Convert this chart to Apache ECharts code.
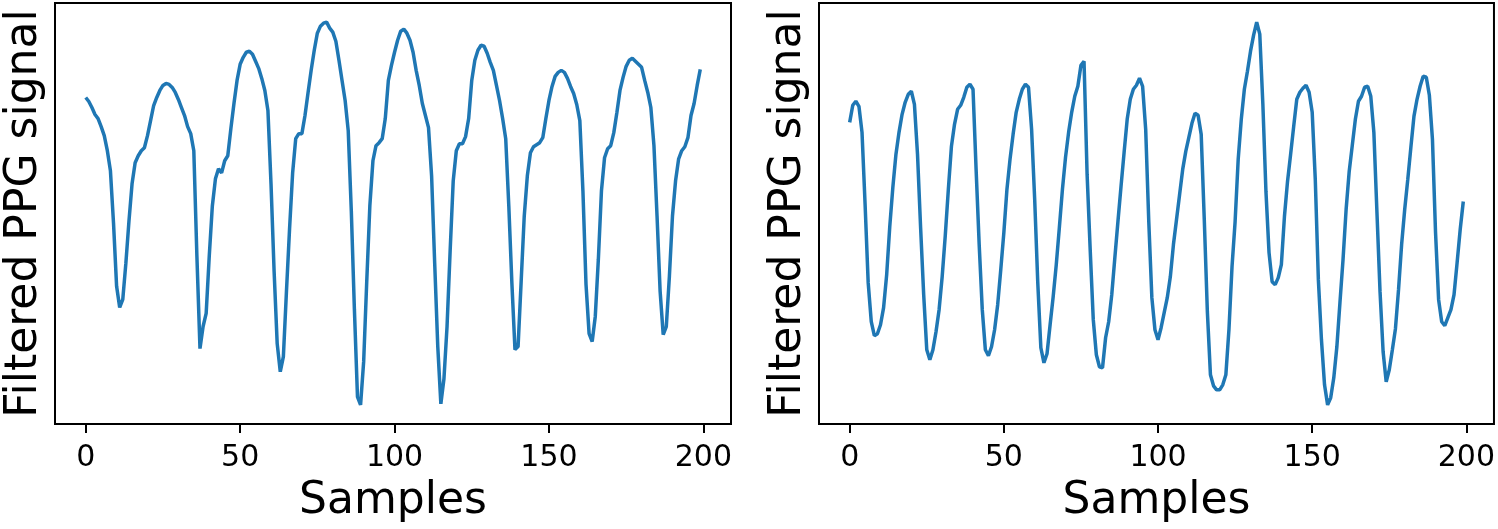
<!DOCTYPE html>
<html>
<head>
<meta charset="utf-8">
<script src="https://cdn.jsdelivr.net/npm/echarts@6/dist/echarts.min.js"></script>
<style>
html,body{margin:0;padding:0;background:#fff;}
#chart{width:1498px;height:529px;}
</style>
</head>
<body>
<div id="chart"></div>
<script>
// Filtered PPG signal (arbitrary units), one value per sample 0..199
const leftSignal = [
153,149,143,136,132,124,115,100,80,28,
-35,-56,-48,-12,30,67,88,95,100,103,
115,130,145,153,160,165,167,166,163,158,
151,143,135,124,117,100,-5,-97,-75,-62,
-5,45,72,82,78,90,95,122,147,170,
186,193,198,199,196,189,182,172,160,140,
67,-20,-92,-120,-105,-40,22,78,112,117,
117,135,158,180,200,217,224,227,228,222,
218,209,190,170,150,120,40,-58,-145,-153,
-110,-30,45,90,105,108,112,132,170,185,
198,210,219,221,217,210,198,180,165,147,
135,123,75,-12,-95,-152,-127,-75,0,70,
100,107,107,114,132,170,190,200,205,204,
197,188,180,165,150,132,112,45,-32,-98,
-95,-30,35,75,98,104,106,108,113,132,
150,164,174,178,180,178,172,164,157,146,
130,60,-33,-82,-90,-65,-8,60,93,102,
105,118,138,160,173,184,190,192,189,186,
183,170,158,143,105,35,-40,-83,-75,-25,
35,70,92,100,104,113,135,147,165,181
];
const rightSignal = [
127,144,148,143,117,45,-33,-72,-86,-84,
-75,-58,-25,23,62,95,117,135,147,155,
158,145,95,22,-45,-100,-110,-100,-82,-60,
-27,14,60,103,125,140,144,152,162,165,
160,80,5,-60,-100,-106,-97,-80,-55,-20,
17,60,90,115,137,150,160,165,162,120,
50,-33,-98,-113,-104,-75,-47,-15,22,60,
92,117,137,153,163,184,188,75,0,-70,
-105,-117,-118,-88,-72,-45,-8,28,63,97,
130,150,160,164,171,163,120,28,-48,-80,
-90,-78,-63,-48,-27,5,30,55,80,98,
112,126,136,134,115,30,-62,-125,-136,-140,
-140,-135,-125,-80,-17,28,90,130,160,178,
198,214,227,215,145,58,-3,-32,-35,-28,
-15,33,68,95,123,150,157,161,164,157,
137,70,-30,-90,-135,-155,-148,-128,-97,-53,
-10,40,78,104,130,148,153,162,163,153,
117,37,-42,-102,-132,-120,-100,-79,-40,5,
40,70,102,133,150,163,173,172,154,110,
17,-50,-72,-76,-68,-60,-45,-13,20,48
];
const xTickValues = [0, 50, 100, 150, 200];
const xAxisTitle = 'Samples';
const yAxisTitle = 'Filtered PPG signal';

const toPairs = arr => arr.map((v, i) => [i, v]);
const FONT = 'DejaVu Sans';
const N = leftSignal.length;
const xPad = 0.05 * (N - 1);

function xAxisFor(gridIndex) {
  return {
    type: 'value', gridIndex: gridIndex, position: 'bottom',
    min: -xPad, max: (N - 1) + xPad,
    name: xAxisTitle, nameLocation: 'middle', nameGap: 56,
    nameTextStyle: {fontFamily: FONT, fontSize: 44, color: '#000'},
    axisLine: {show: false, onZero: false},
    axisTick: {show: true, customValues: xTickValues, length: 9, lineStyle: {color: '#000', width: 2}},
    axisLabel: {show: true, customValues: xTickValues, margin: 19, fontFamily: FONT, fontSize: 30, color: '#000'},
    splitLine: {show: false}
  };
}
function yAxisFor(gridIndex) {
  return {
    type: 'value', gridIndex: gridIndex,
    min: v => v.min - 0.05 * (v.max - v.min),
    max: v => v.max + 0.05 * (v.max - v.min),
    name: yAxisTitle, nameLocation: 'middle', nameGap: 8, nameRotate: 90,
    nameTextStyle: {fontFamily: FONT, fontSize: 44, color: '#000'},
    axisLine: {show: false, onZero: false}, axisTick: {show: false}, axisLabel: {show: false},
    splitLine: {show: false}
  };
}

const chart = echarts.init(document.getElementById('chart'), null, {renderer: 'canvas'});
chart.setOption({
  animation: false,
  backgroundColor: '#fff',
  grid: [
    {left: 55, top: 3, width: 676, height: 421, show: true, borderColor: '#000', borderWidth: 2, backgroundColor: 'transparent'},
    {left: 819, top: 3, width: 675, height: 421, show: true, borderColor: '#000', borderWidth: 2, backgroundColor: 'transparent'}
  ],
  xAxis: [xAxisFor(0), xAxisFor(1)],
  yAxis: [yAxisFor(0), yAxisFor(1)],
  series: [
    {type: 'line', xAxisIndex: 0, yAxisIndex: 0, data: toPairs(leftSignal), showSymbol: false,
     lineStyle: {color: '#1f77b4', width: 3.5}, smooth: false},
    {type: 'line', xAxisIndex: 1, yAxisIndex: 1, data: toPairs(rightSignal), showSymbol: false,
     lineStyle: {color: '#1f77b4', width: 3.5}, smooth: false}
  ]
});
</script>
</body>
</html>
